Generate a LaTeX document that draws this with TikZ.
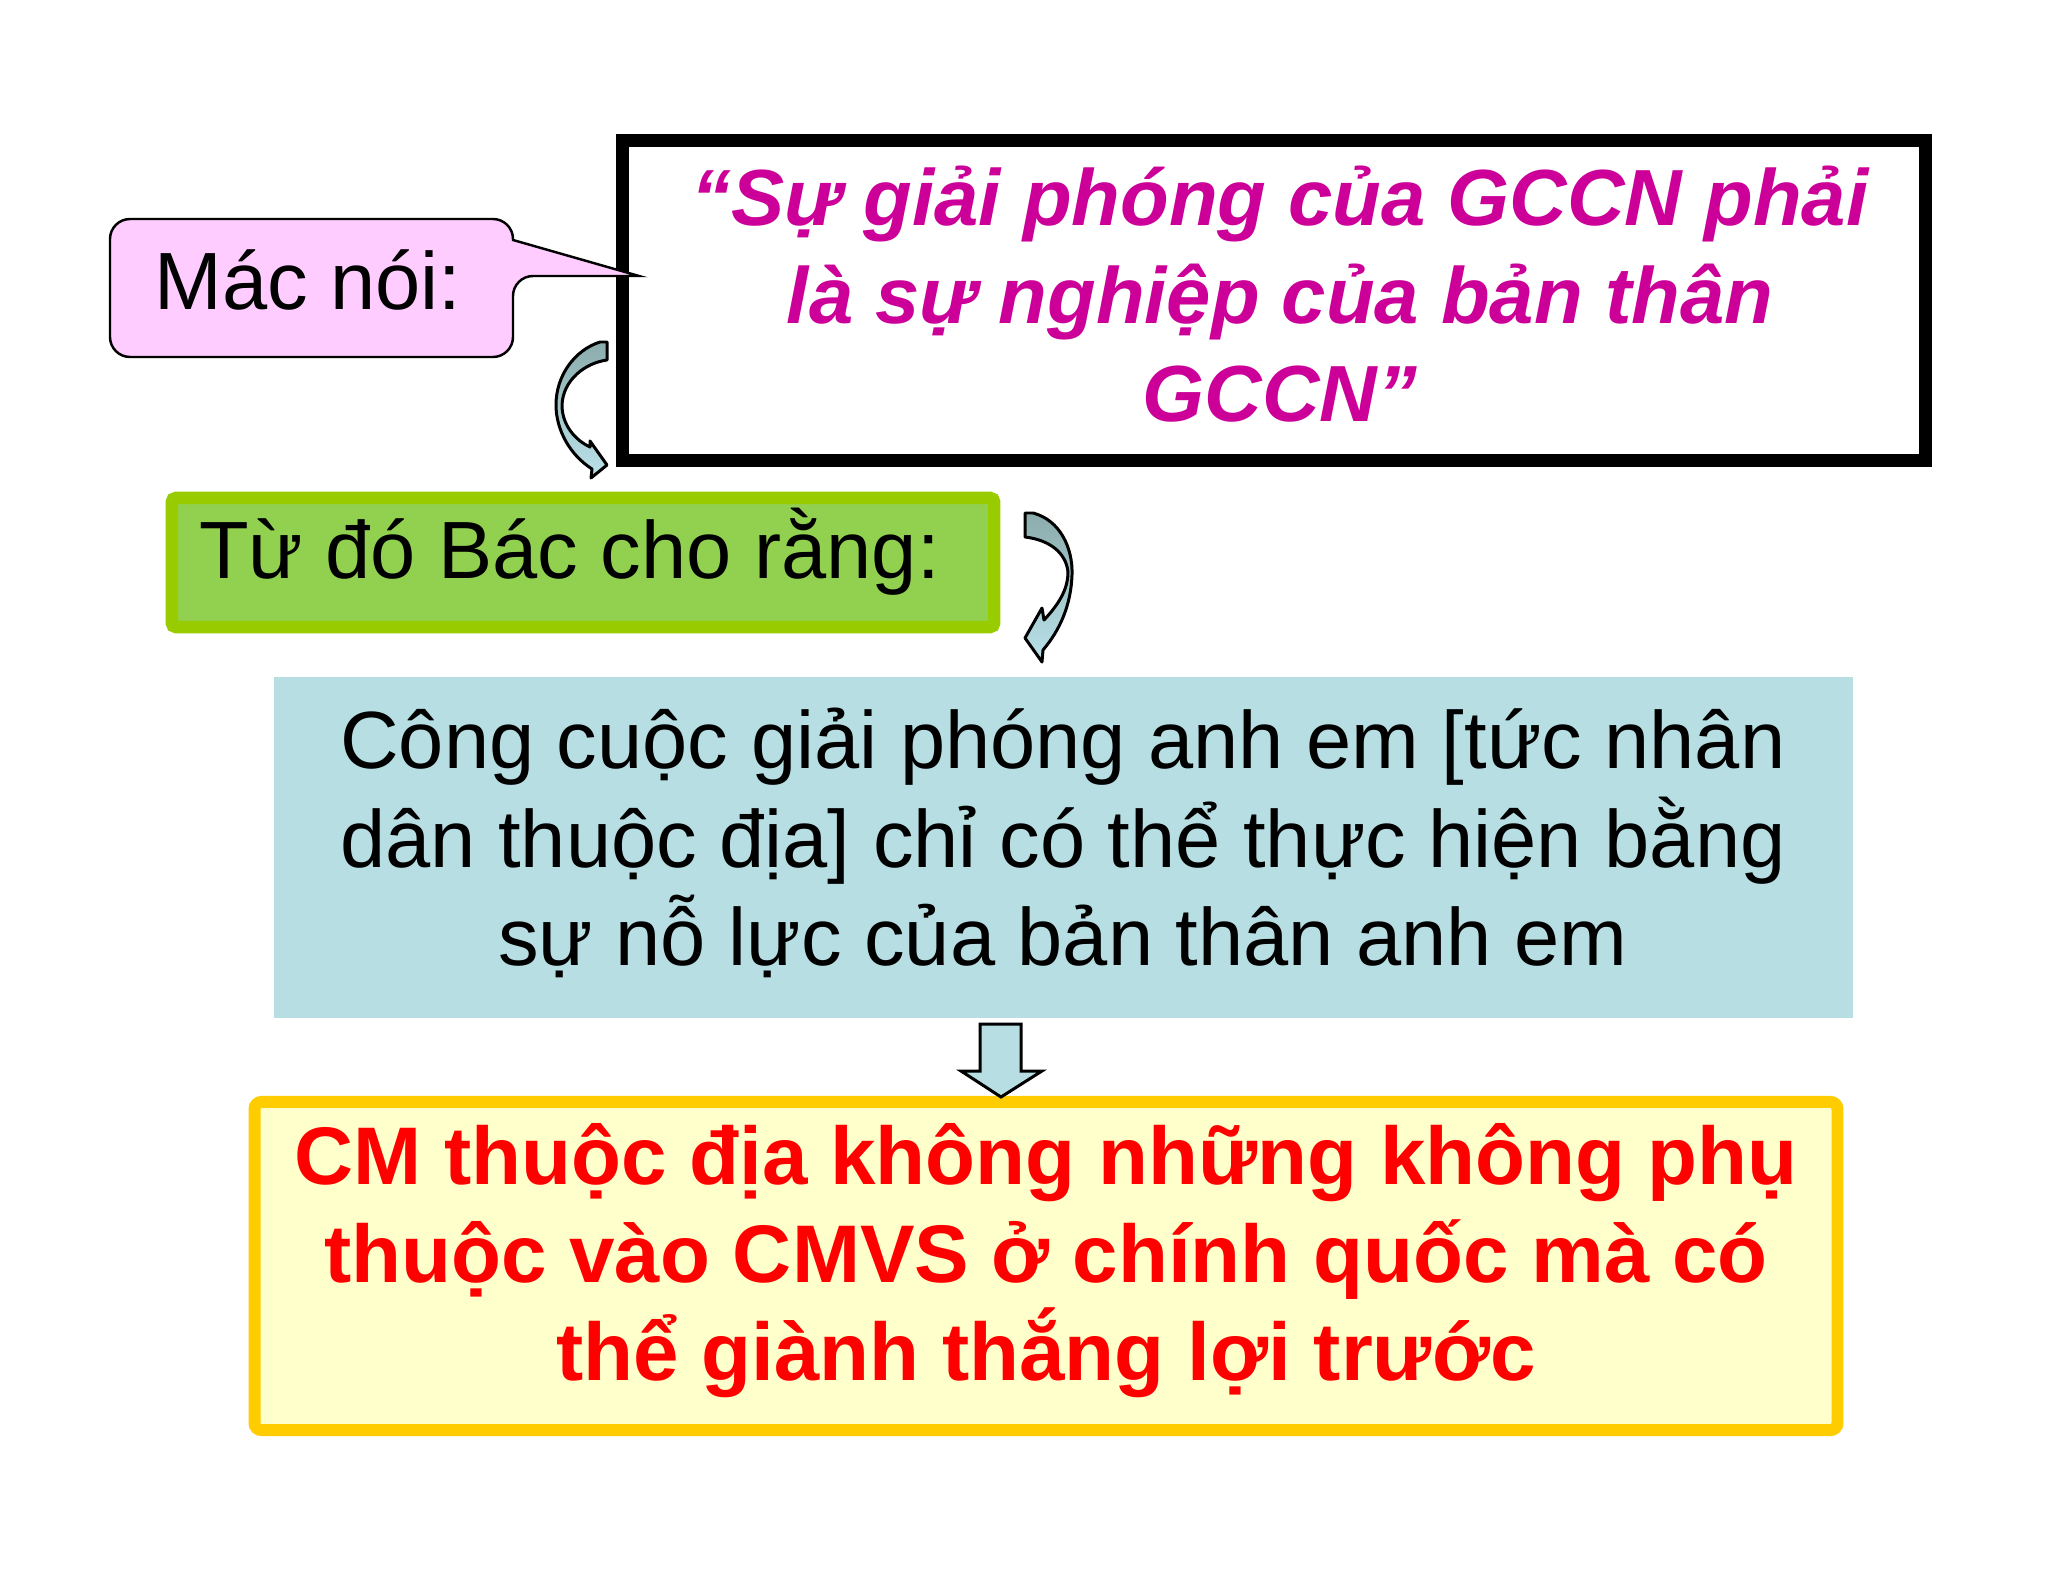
\documentclass[tikz,border=0pt]{standalone}
\usepackage{fontspec}
\setmainfont{Liberation Sans}
\definecolor{quotemag}{RGB}{204,0,153}
\definecolor{callpink}{RGB}{255,204,255}
\definecolor{greenfill}{RGB}{146,208,80}
\definecolor{greenline}{RGB}{153,204,0}
\definecolor{bluefill}{RGB}{183,222,226}
\definecolor{yellowfill}{RGB}{255,255,204}
\definecolor{yellowline}{RGB}{255,204,0}
\definecolor{arrowdark}{RGB}{140,172,172}
\definecolor{arrowlight}{RGB}{186,226,234}
\begin{document}
\begin{tikzpicture}[x=0.01cm,y=-0.01cm,
  txt/.style={inner sep=0pt, outer sep=0pt, align=center,
    font=\fontsize{23.1}{27.9}\selectfont},
  boxbase/.style={shape=rectangle, inner sep=0pt, outer sep=0pt},
  quotebox/.style={boxbase, draw=black, line width=3.7pt, fill=white,
    minimum width=13.02cm, minimum height=3.195cm},
  greenbox/.style={boxbase, draw=greenline, fill=greenfill, line width=3.55pt,
    rounded corners=1.2pt, minimum width=8.22cm, minimum height=1.29cm},
  bluebox/.style={boxbase, fill=bluefill, minimum width=15.79cm, minimum height=3.41cm},
  yellowbox/.style={boxbase, draw=yellowline, fill=yellowfill, line width=3.4pt,
    rounded corners=2pt, minimum width=15.82cm, minimum height=3.28cm},
  calloutshape/.style={draw=black, fill=callpink, line width=0.7pt},
  curvearrow/.style={draw=black, line width=0.85pt, line join=round,
    top color=arrowdark, bottom color=arrowlight},
  blockarrow/.style={draw=black, line width=0.85pt, fill=bluefill, line join=miter}
]
\useasboundingbox (0,0) rectangle (2048,1582);

% boxes
\node[quotebox] (quote) at (1274,300.25) {};
\node[greenbox] (bac) at (583,562.5) {};
\node[bluebox] (cong) at (1063.5,847.5) {};
\node[yellowbox] (cm) at (1046,1266) {};

% callout
\path[calloutshape] (300,357) [rounded corners=5.7pt] -- (513,357) -- (513,276)
  [sharp corners] -- (639,276) -- (513,240) [rounded corners=5.7pt] -- (513,219)
  -- (110,219) -- (110,357) -- cycle;
\node[txt, anchor=base] (mac) at (308,310) {Mác nói:};

% texts
\node[txt, text=quotemag, font=\fontsize{22.65}{27.9}\selectfont\bfseries\itshape] (quotetext) at (1280,294)
  {“Sự giải phóng của GCCN phải\\là sự nghiệp của bản thân\\GCCN”};
\node[txt, anchor=base west] (bactext) at (199,578) {Từ đó Bác cho rằng:};
\node[txt] (congtext) at (1063,843)
  {Công cuộc giải phóng anh em [tức nhân\\dân thuộc địa] chỉ có thể thực hiện bằng\\sự nỗ lực của bản thân anh em};
\node[txt, text=red, font=\fontsize{23.25}{27.9}\selectfont\bfseries] (cmtext) at (1046,1261)
  {CM thuộc địa không những không phụ\\thuộc vào CMVS ở chính quốc mà có\\thể giành thắng lợi trước};

% curved arrow 1 (callout -> green box)
\path[curvearrow] (607,342) -- (607,360)
  .. controls (585,363) and (563,380) .. (562,405)
  .. controls (562,425) and (575,440) .. (590,447)
  -- (590,441) -- (607,465) -- (591,478) -- (592,469)
  .. controls (570,455) and (556,430) .. (556,405)
  .. controls (556,375) and (575,350) .. (600,342) -- cycle;

% curved arrow 2 (green box -> blue box)
\path[curvearrow] (1025,513) -- (1033,513)
  .. controls (1060,520) and (1073,548) .. (1072,575)
  .. controls (1071,605) and (1060,630) .. (1043,650)
  -- (1042,662) -- (1025,638) -- (1042,608) -- (1044,620)
  .. controls (1058,605) and (1068,590) .. (1068,572)
  .. controls (1066,553) and (1050,540) .. (1025,537) -- cycle;

% down block arrow (blue box -> yellow box)
\path[blockarrow] (980,1024) -- (1021,1024) -- (1021,1071) -- (1042,1071)
  -- (1001,1097) -- (961,1071) -- (980,1071) -- cycle;
\end{tikzpicture}
\end{document}
